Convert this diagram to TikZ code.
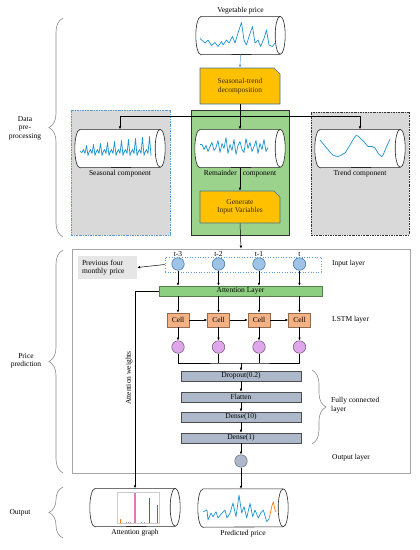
\documentclass[tikz,border=0pt]{standalone}
\usepackage{fontspec}
\setmainfont{Liberation Serif}
\usetikzlibrary{arrows.meta,shapes.misc,decorations.pathreplacing}

\definecolor{wavecol}{HTML}{1C94CF}
\definecolor{stepfill}{HTML}{FFC000}
\definecolor{stepedge}{HTML}{41719C}
\definecolor{steptext}{HTML}{3F2D00}
\definecolor{panelgray}{HTML}{D9D9D9}
\definecolor{panelblue}{HTML}{5B9BD5}
\definecolor{remgreen}{HTML}{9BD38C}
\definecolor{attngreen}{HTML}{8DCF80}
\definecolor{inblue}{HTML}{9DC3E6}
\definecolor{cellorange}{HTML}{F4B183}
\definecolor{hidpurple}{HTML}{E0A6EC}
\definecolor{fcblue}{HTML}{ADB9CA}
\definecolor{prevgray}{HTML}{E7E6E6}
\definecolor{barorange}{HTML}{FF7F0E}
\definecolor{barpink}{HTML}{E377C2}
\definecolor{barblue}{HTML}{1F77B4}
\definecolor{barred}{HTML}{E8393A}
\definecolor{barpurple}{HTML}{B38FD6}

\begin{document}
\begin{tikzpicture}[
  x=1pt, y=-1pt,
  font=\fontsize{7.5}{8.6}\selectfont,
  tube/.style={rectangle, minimum width=90pt, minimum height=38pt, inner sep=0pt},
  tubeline/.style={draw=black!85, line width=0.6pt},
  wave/.style={wavecol, line width=0.7pt, line join=round},
  stepbox/.style={chamfered rectangle, chamfered rectangle corners=north east,
    chamfered rectangle xsep=3pt, chamfered rectangle ysep=3pt, draw=stepedge, fill=stepfill,
    line width=0.6pt, minimum width=80pt, align=center, text=steptext, inner sep=0pt},
  panel/.style={fill=panelgray, line width=0.7pt, dash pattern=on 2pt off 1pt on 0.7pt off 1pt,
    inner sep=0pt},
  unit/.style={circle, draw, line width=0.5pt, minimum size=12.5pt, inner sep=0pt},
  cellbox/.style={draw=cellorange!60!black, fill=cellorange, line width=0.5pt,
    minimum width=22pt, minimum height=14pt, inner sep=0pt},
  fcbox/.style={draw=black!70, fill=fcblue, line width=0.6pt, minimum width=120pt,
    minimum height=10pt, inner sep=0pt},
  bar/.style={line width=1.3pt},
  arr/.style={-{Latex[length=3pt, width=2.6pt]}, line width=0.5pt},
  brace/.style={decorate, decoration={brace, amplitude=14pt}, draw=black!45, line width=0.6pt},
  lbl/.style={align=center, inner sep=1pt}
]
  \useasboundingbox (0,0) rectangle (420,550);

  % Decomposition stage: the three panels sit behind the series
  \node[panel, draw=panelblue, minimum width=99pt, minimum height=125pt] (seasbox) at (120.5,172.5) {};
  \node[draw=black!80, fill=remgreen, line width=0.7pt, minimum width=98pt, minimum height=125pt,
    inner sep=0pt] (rembox) at (240,172.5) {};
  \node[panel, draw=black!80, minimum width=98pt, minimum height=123pt] (trendbox) at (360,173.5) {};

  % Prediction network frame
  \node[draw=black!35, line width=0.8pt, minimum width=338pt, minimum height=224pt,
    inner sep=0pt] (predbox) at (241,361) {};

  % Series drums
  \node[tube, minimum width=89pt] (vegprice) at (240.5,35.5) {};
  \node[tube] (seasonal) at (120,148.5) {};
  \node[tube] (remainder) at (240,148.5) {};
  \node[tube] (trend) at (360,148.5) {};
  \node[tube] (attgraph) at (135,507.5) {};
  \node[tube] (predprice) at (243,508) {};
  \foreach \n in {vegprice, seasonal, remainder, trend, attgraph, predprice} {
    \draw[tubeline, fill=white] ([xshift=5pt]\n.north west) -- ([xshift=-5pt]\n.north east)
      arc[start angle=90, end angle=-90, x radius=5pt, y radius=19pt]
      -- ([xshift=5pt]\n.south west)
      arc[start angle=270, end angle=90, x radius=5pt, y radius=19pt] -- cycle;
    \draw[tubeline] ([xshift=-5pt]\n.north east)
      arc[start angle=90, end angle=270, x radius=5pt, y radius=19pt];
  }

  \node[lbl] (veglbl) at (240.5,11) {Vegetable price};
  \node[lbl] (seaslbl) at (120,173.5) {Seasonal component};
  \node[lbl] (remlbl) at (240,173.5) {Remainder\hspace{6pt}component};
  \node[lbl] (trendlbl) at (360,173.5) {Trend component};
  \node[lbl] (attlbl) at (135,533) {Attention graph};
  \node[lbl] (predlbl) at (243,534) {Predicted price};

  \draw[wave, shift={(vegprice.center)}] plot coordinates {(-40.5,3) (-35.5,7.5) (-32.5,4.5)
    (-29,10) (-25.5,7) (-22.5,11) (-19,6) (-17.5,9.5) (-14,4.5) (-11.5,7.5) (-8,1) (-5.5,7.5)
    (-2.5,-2.5) (1,-13) (3.5,4.5) (6,9.5) (8.5,1) (12,-9) (14.5,7.5) (17.5,4.5) (20,11)
    (23.5,3) (26,-5.5) (28.5,9.5) (32,11) (34.5,7.5)};
  \draw[wave, shift={(seasonal.center)}] (-40,3) \foreach \k in {0,...,9} {
    -- ({-38+7*\k},4) -- ({-36.5+7*\k},1) -- ({-35+7*\k},5) -- ({-33.5+7*\k},{-3-\k})
    -- ({-32+7*\k},7) };
  \draw[wave, shift={(remainder.center)}] (-40,-4) \foreach \v [count=\i] in {-2,3,-1,5,0,-4,
    4,1,-6,6,-3,2,-9,7,-2,4,-7,8,-1,-5,3,6,-8,2,-4,5,0,-6,7,-3,3,-7,5,1} { -- ({-40+2*\i},{\v-2}) };
  \draw[wave, shift={(trend.center)}] plot[smooth] coordinates {(-40,-8.5) (-33,0) (-27,6.5)
    (-22,8) (-18,6) (-15,4.5) (-10,-3.5) (-4,-13) (0,-10.5) (5,-5.5) (8,-2) (12,-2) (15,-0.5)
    (18,4.5) (22,8) (26,-0.5) (30,-9.5)};

  \node[stepbox, minimum height=36pt] (stl) at (240,86) {Seasonal-trend\\decomposition};
  \node[stepbox, minimum height=32pt] (genvars) at (240,207) {Generate\\Input Variables};

  \coordinate (split) at (240,116);
  \draw[arr, panelblue] (vegprice.south) -- (stl.north);
  \draw[arr] (stl.south) -- (remainder.north);
  \draw[line width=0.5pt] (seasonal.north |- split) -- (trend.north |- split);
  \draw[arr] (seasonal.north |- split) -- (seasonal.north);
  \draw[arr] (trend.north |- split) -- (trend.north);
  \draw[arr] (remainder.south) -- (genvars.north);
  \draw[arr] (genvars.south) -- (predbox.north);

  % Prediction network
  \node[draw=panelblue, dotted, line width=0.6pt, minimum width=156pt, minimum height=15pt,
    inner sep=0pt] (inbox) at (243,264.5) {};
  \node[fill=prevgray, text width=51pt, align=left, inner sep=4pt] (prev) at (107.5,267.5)
    {Previous four\\monthly price};
  \draw[arr] (inbox.west) -- (prev.east);

  \node[draw=attngreen!60!black, fill=attngreen, line width=0.5pt, minimum width=163pt,
    minimum height=10pt, inner sep=0pt] (attn) at (240.5,291) {Attention Layer};

  \foreach \i/\t in {1/t-3, 2/t-2, 3/t-1, 4/t} {
    \node[unit, fill=inblue, draw=stepedge] (in\i) at ({178+40.5*(\i-1)},264) {};
    \node[lbl, anchor=south] (tlbl\i) at (in\i.north) {\t};
    \node[cellbox] (cell\i) at ({178+40.5*(\i-1)},320) {Cell};
    \node[unit, fill=hidpurple, draw=hidpurple!50!black] (hid\i) at ({178+40.5*(\i-1)},347) {};
    \draw[arr] (in\i) -- (in\i |- attn.north);
    \draw[arr] (in\i |- attn.south) -- (cell\i);
    \draw[arr] (cell\i) -- (hid\i);
  }
  \foreach \i/\j in {1/2, 2/3, 3/4} {
    \draw[arr] (cell\i) -- (cell\j);
  }

  \coordinate (merge) at (241,363);
  \draw[line width=0.5pt] (hid1) |- (merge) -| (hid4);
  \draw[line width=0.5pt] (hid2) -- (hid2 |- merge);
  \draw[line width=0.5pt] (hid3) -- (hid3 |- merge);

  \foreach \n/\t/\y in {dropout/Dropout(0.2)/376, flatten/Flatten/397, denseA/Dense(10)/417,
      denseB/Dense(1)/438} {
    \node[fcbox] (\n) at (241,\y) {\t};
  }
  \draw[arr] (merge) -- (dropout);
  \draw[arr] (dropout) -- (flatten);
  \draw[arr] (flatten) -- (denseA);
  \draw[arr] (denseA) -- (denseB);
  \node[unit, fill=fcblue, draw=fcblue!60!black] (out) at (241,461) {};
  \draw[arr] (denseB) -- (out);

  \node[lbl, anchor=west] (inlbl) at (331,264) {Input layer};
  \node[lbl, anchor=west] (lstmlbl) at (331,320) {LSTM layer};
  \draw[brace] (312,370) -- (312,444);
  \node[lbl, anchor=west, align=left] (fclbl) at (330,405) {Fully connected\\layer};
  \node[lbl, anchor=west] (outlayerlbl) at (331,458) {Output layer};

  % Outputs
  \begin{scope}[shift={(attgraph.center)}]
    \draw[black!20, fill=white, line width=0.3pt] (-18,-15.5) rectangle (24,15.5);
    \draw[bar, barorange] (-14.3,15.5) -- (-14.3,11.5);
    \draw[bar, barpink] (0,15.5) -- (0,-14.8);
    \draw[bar, barblue] (14.3,15.5) -- (14.3,-9.2);
    \draw[bar, barred] (22.7,15.5) -- (22.7,-2.5);
    \foreach \x in {-9,-7,-5,6,9} {
      \draw[line width=1pt, barpurple] (\x,15.5) -- (\x,14.3);
    }
  \end{scope}

  \draw[wave, shift={(predprice.center)}] plot coordinates {(-39.7,3.7) (-36,2) (-35,12) (-32,5)
    (-30,8.7) (-27,3.7) (-25,10) (-21,5) (-18,2) (-16,10) (-13,5) (-10,-5) (-7,8.7) (-4,-13)
    (-1.3,5) (1,-1.3) (3.7,10) (7,-4.7) (9.7,8.7) (12,2) (15.3,10) (17.7,5) (20.3,2) (23.7,13.7)
    (26,11)};
  \draw[wave, barorange, shift={(predprice.center)}] plot coordinates {(26,11) (28.7,-1.3)
    (30.3,-6.3) (32,2) (33,3.7)};

  \draw[arr] (attn.west) -| (attgraph.north);
  \node[lbl, rotate=90] (attwlbl) at (129,378) {Attention weights};
  \draw[arr] (out) -- (out |- predprice.north);

  % Stage braces
  \draw[brace] (63,237) -- (63,18);
  \node[lbl] (prelbl) at (25,128) {Data\\pre-\\processing};
  \draw[brace] (63,473) -- (63,250);
  \node[lbl] (predstagelbl) at (26,361) {Price\\prediction};
  \draw[brace] (63,538) -- (63,487);
  \node[lbl] (outlbl) at (20,513) {Output};
\end{tikzpicture}
\end{document}
